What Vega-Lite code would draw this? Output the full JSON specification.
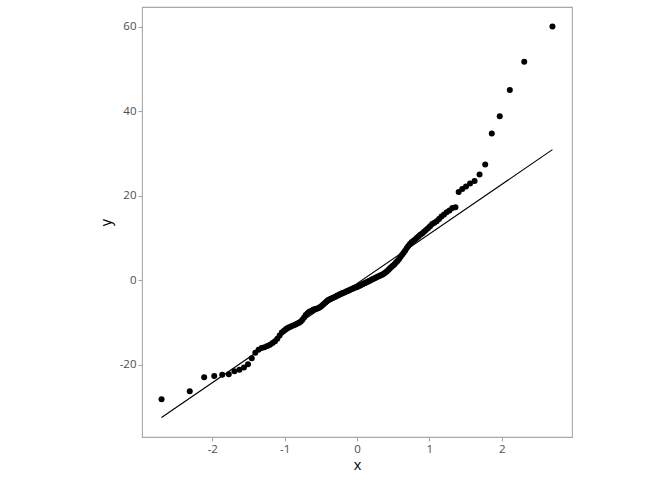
{
  "$schema": "https://vega.github.io/schema/vega-lite/v6.json",
  "width": 430,
  "height": 430,
  "autosize": "none",
  "padding": {"left": 142, "top": 7, "right": 100, "bottom": 43},
  "background": "white",
  "config": {
    "font": "Open Sans",
    "view": {"stroke": "#a8a8a8", "strokeWidth": 1.1},
    "axis": {
      "grid": false,
      "domain": false,
      "tickColor": "#a8a8a8",
      "tickSize": 4,
      "tickWidth": 1.1,
      "labelColor": "#4d4d4d",
      "labelFontSize": 11.5,
      "labelPadding": 2,
      "titleColor": "#000000",
      "titleFontSize": 14.5,
      "titleFontWeight": "normal"
    }
  },
  "datasets": {
    "pts": [
      {"x": -2.7014, "y": -28.1}, {"x": -2.3115, "y": -26.2}, {"x": -2.1124, "y": -22.9}, {"x": -1.9730, "y": -22.6},
      {"x": -1.8627, "y": -22.3}, {"x": -1.7719, "y": -22.2}, {"x": -1.6937, "y": -21.5}, {"x": -1.6250, "y": -21.1},
      {"x": -1.5627, "y": -20.6}, {"x": -1.5066, "y": -19.8}, {"x": -1.4546, "y": -18.4}, {"x": -1.4053, "y": -17.1},
      {"x": -1.3604, "y": -16.4}, {"x": -1.3180, "y": -16.0}, {"x": -1.2782, "y": -15.8}, {"x": -1.2396, "y": -15.5},
      {"x": -1.2027, "y": -15.2}, {"x": -1.1674, "y": -14.8}, {"x": -1.1335, "y": -14.4}, {"x": -1.1010, "y": -13.8},
      {"x": -1.0698, "y": -13.0}, {"x": -1.0393, "y": -12.3}, {"x": -1.0100, "y": -11.9}, {"x": -0.9812, "y": -11.5},
      {"x": -0.9535, "y": -11.2}, {"x": -0.9264, "y": -11.0}, {"x": -0.9001, "y": -10.8}, {"x": -0.8745, "y": -10.6},
      {"x": -0.8492, "y": -10.4}, {"x": -0.8245, "y": -10.2}, {"x": -0.8002, "y": -10.0}, {"x": -0.7764, "y": -9.7},
      {"x": -0.7544, "y": -9.3}, {"x": -0.7313, "y": -8.8}, {"x": -0.7086, "y": -8.2}, {"x": -0.6863, "y": -7.8},
      {"x": -0.6643, "y": -7.5}, {"x": -0.6426, "y": -7.3}, {"x": -0.6212, "y": -7.1}, {"x": -0.6001, "y": -6.9},
      {"x": -0.5793, "y": -6.8}, {"x": -0.5587, "y": -6.7}, {"x": -0.5384, "y": -6.6}, {"x": -0.5183, "y": -6.4},
      {"x": -0.4986, "y": -6.2}, {"x": -0.4789, "y": -5.9}, {"x": -0.4595, "y": -5.6}, {"x": -0.4403, "y": -5.3},
      {"x": -0.4212, "y": -5.0}, {"x": -0.4022, "y": -4.7}, {"x": -0.3834, "y": -4.5}, {"x": -0.3648, "y": -4.4},
      {"x": -0.3462, "y": -4.2}, {"x": -0.3278, "y": -4.1}, {"x": -0.3095, "y": -3.9}, {"x": -0.2913, "y": -3.8},
      {"x": -0.2732, "y": -3.6}, {"x": -0.2551, "y": -3.5}, {"x": -0.2372, "y": -3.3}, {"x": -0.2193, "y": -3.2},
      {"x": -0.2015, "y": -3.0}, {"x": -0.1838, "y": -2.9}, {"x": -0.1661, "y": -2.8}, {"x": -0.1485, "y": -2.6},
      {"x": -0.1309, "y": -2.5}, {"x": -0.1134, "y": -2.4}, {"x": -0.0959, "y": -2.2}, {"x": -0.0784, "y": -2.1},
      {"x": -0.0610, "y": -2.0}, {"x": -0.0435, "y": -1.8}, {"x": -0.0261, "y": -1.7}, {"x": -0.0087, "y": -1.6},
      {"x": 0.0087, "y": -1.5}, {"x": 0.0261, "y": -1.35}, {"x": 0.0435, "y": -1.2}, {"x": 0.0610, "y": -1.05},
      {"x": 0.0784, "y": -0.9}, {"x": 0.0959, "y": -0.75}, {"x": 0.1134, "y": -0.6}, {"x": 0.1309, "y": -0.45},
      {"x": 0.1485, "y": -0.3}, {"x": 0.1661, "y": -0.15}, {"x": 0.1838, "y": 0.0}, {"x": 0.2015, "y": 0.15},
      {"x": 0.2193, "y": 0.3}, {"x": 0.2372, "y": 0.45}, {"x": 0.2551, "y": 0.6}, {"x": 0.2732, "y": 0.75},
      {"x": 0.2913, "y": 0.9}, {"x": 0.3095, "y": 1.05}, {"x": 0.3278, "y": 1.2}, {"x": 0.3462, "y": 1.35},
      {"x": 0.3648, "y": 1.5}, {"x": 0.3834, "y": 1.75}, {"x": 0.4022, "y": 2.0}, {"x": 0.4212, "y": 2.3},
      {"x": 0.4403, "y": 2.6}, {"x": 0.4595, "y": 2.9}, {"x": 0.4789, "y": 3.2}, {"x": 0.4986, "y": 3.5},
      {"x": 0.5183, "y": 3.8}, {"x": 0.5384, "y": 4.2}, {"x": 0.5587, "y": 4.6}, {"x": 0.5793, "y": 5.0},
      {"x": 0.6001, "y": 5.5}, {"x": 0.6212, "y": 6.0}, {"x": 0.6426, "y": 6.5}, {"x": 0.6643, "y": 7.0},
      {"x": 0.6863, "y": 7.6}, {"x": 0.7086, "y": 8.1}, {"x": 0.7313, "y": 8.6}, {"x": 0.7544, "y": 9.0},
      {"x": 0.7764, "y": 9.3}, {"x": 0.8002, "y": 9.6}, {"x": 0.8245, "y": 10.0}, {"x": 0.8492, "y": 10.4},
      {"x": 0.8745, "y": 10.8}, {"x": 0.9001, "y": 11.1}, {"x": 0.9264, "y": 11.5}, {"x": 0.9535, "y": 11.9},
      {"x": 0.9812, "y": 12.3}, {"x": 1.0100, "y": 12.8}, {"x": 1.0393, "y": 13.3}, {"x": 1.0698, "y": 13.6},
      {"x": 1.1010, "y": 14.0}, {"x": 1.1335, "y": 14.5}, {"x": 1.1674, "y": 15.1}, {"x": 1.2027, "y": 15.6},
      {"x": 1.2396, "y": 16.1}, {"x": 1.2782, "y": 16.5}, {"x": 1.3180, "y": 17.1}, {"x": 1.3604, "y": 17.3},
      {"x": 1.4053, "y": 20.9}, {"x": 1.4546, "y": 21.6}, {"x": 1.5066, "y": 22.2}, {"x": 1.5627, "y": 22.9},
      {"x": 1.6250, "y": 23.5}, {"x": 1.6937, "y": 25.0}, {"x": 1.7719, "y": 27.4}, {"x": 1.8627, "y": 34.7},
      {"x": 1.9730, "y": 38.8}, {"x": 2.1124, "y": 45.0}, {"x": 2.3115, "y": 51.7}, {"x": 2.7014, "y": 60.0}
    ],
    "qqline": [
      {"x": -2.7014, "y": -32.4},
      {"x": 2.7014, "y": 30.9}
    ]
  },
  "layer": [
    {
      "data": {"name": "qqline"},
      "mark": {"type": "line", "color": "#000000", "strokeWidth": 1.1},
      "encoding": {
        "x": {"field": "x", "type": "quantitative", "scale": {"domain": [-2.9715, 2.9715], "nice": false, "zero": false}, "axis": {"values": [-2, -1, 0, 1, 2], "labelExpr": "datum.value < 0 ? '-' + abs(datum.value) : '' + datum.value", "title": "x", "titlePadding": 4}},
        "y": {"field": "y", "type": "quantitative", "scale": {"domain": [-37.02, 64.62], "nice": false, "zero": false}, "axis": {"values": [-20, 0, 20, 40, 60], "labelExpr": "datum.value < 0 ? '-' + abs(datum.value) : '' + datum.value", "title": "y", "titlePadding": 6}}
      }
    },
    {
      "data": {"name": "pts"},
      "mark": {"type": "circle", "color": "#000000", "opacity": 1, "size": 36},
      "encoding": {
        "x": {"field": "x", "type": "quantitative"},
        "y": {"field": "y", "type": "quantitative"}
      }
    }
  ]
}
